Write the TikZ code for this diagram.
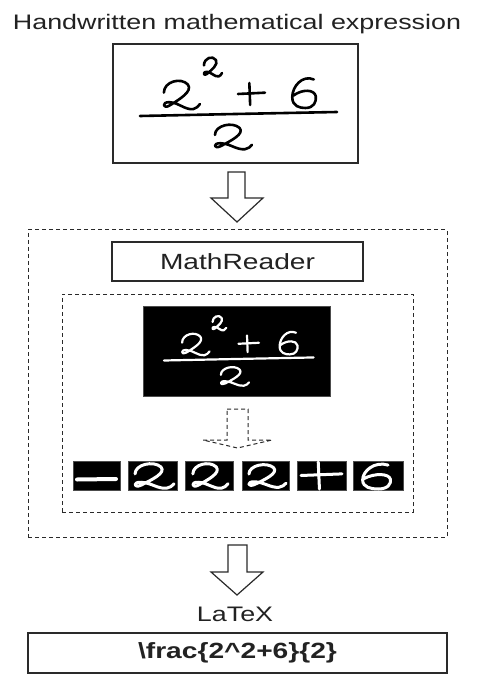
\documentclass[tikz,border=0pt]{standalone}
\usepackage{fontspec}
\setmainfont{Liberation Sans}[FakeStretch=1.28]
\definecolor{ink}{HTML}{222222}
\definecolor{frame}{HTML}{2A2A2A}
\tikzset{
  box/.style={draw=frame, line width=1.2pt, inner sep=0pt, fill=white},
  dbox/.style={draw=frame, line width=1pt, dash pattern=on 4pt off 3pt, inner sep=0pt},
  imgbox/.style={fill=black, draw=black!70, line width=0.6pt, inner sep=0pt},
  label/.style={text=ink, inner sep=0pt},
  harrow/.style={draw=frame, line width=1.2pt, fill=white, line join=miter},
  hand/.style={line width=2.6pt, line cap=round, line join=round},
}
% handwritten strokes, drawn in a unit box (x right, y down)
\newcommand{\hwtwo}[4]{\draw[shift={(#1,#2)},xscale=#3,yscale=#4]
  (0.05,0.42) .. controls (0.05,0.05) and (0.5,-0.1) .. (0.68,0.15)
  .. controls (0.82,0.38) and (0.45,0.65) .. (0.2,0.85)
  .. controls (0.02,0.99) and (-0.02,0.72) .. (0.2,0.74)
  .. controls (0.45,0.76) and (0.6,1.0) .. (0.82,0.97)
  .. controls (0.9,0.95) and (0.96,0.88) .. (1,0.8);}
\newcommand{\hwsix}[4]{\draw[shift={(#1,#2)},xscale=#3,yscale=#4]
  (0.85,0.08) .. controls (0.45,-0.08) and (0.08,0.3) .. (0.08,0.65)
  .. controls (0.08,0.95) and (0.35,1.0) .. (0.55,1.0)
  .. controls (0.85,1.0) and (0.95,0.8) .. (0.92,0.62)
  .. controls (0.87,0.4) and (0.45,0.38) .. (0.12,0.6);}
\newcommand{\hwplus}[4]{\draw[shift={(#1,#2)},xscale=#3,yscale=#4]
  (0.42,0) -- (0.45,1) (0,0.5) -- (1,0.44);}
\newcommand{\hwexpr}{%
  \hwtwo{-73.5}{-23.5}{38}{30}
  \hwtwo{-32.5}{-46.5}{19}{20}
  \hwplus{2.5}{-20.5}{27}{22}
  \hwsix{54.5}{-26.5}{28}{31}
  \draw (-95.5,12.5) -- (0,10.5) -- (101.5,8.5);
  \hwtwo{-22.5}{20.5}{39}{26}}
\begin{document}
\begin{tikzpicture}[x=1pt,y=-1pt]
\useasboundingbox (0,0) rectangle (487,692);
\fill[white] (0,0) rectangle (487,692);

% title and input image
\node[label, font=\fontsize{21}{25}\selectfont] (title) at (237,24) {Handwritten mathematical expression};
\node[box, minimum width=245pt, minimum height=119pt] (input) at (235.5,103.5) {};
\begin{scope}[shift={(input.center)}, hand, draw=black]
  \hwexpr
\end{scope}

% arrow 1
\draw[harrow] (228,172) -- (245,172) -- (245,198) -- (263,198) -- (237,222)
  -- (211,198) -- (228,198) -- cycle;

% MathReader block
\node[dbox, minimum width=419pt, minimum height=307pt] (outer) at (237.5,383.5) {};
\node[box, minimum width=251pt, minimum height=39pt, label, draw=frame,
  font=\fontsize{22}{26}\selectfont] (reader) at (237.5,261.5) {MathReader};
\node[dbox, minimum width=351pt, minimum height=218pt] (inner) at (237.5,403) {};
\node[imgbox, minimum width=187pt, minimum height=90pt] (binimg) at (236.5,351) {};
\begin{scope}[shift={(binimg.center)}, scale=0.76, hand, draw=white, line width=2.2pt]
  \hwexpr
\end{scope}

% dashed arrow
\draw[harrow, line width=1pt, dash pattern=on 4pt off 3pt] (227,409) -- (248,409)
  -- (248,440) -- (272,440) -- (237.5,448) -- (203,440) -- (227,440) -- cycle;

% segmented symbols
\foreach \n/\cx/\w in {1/96.5/47, 2/152.5/49, 3/209/48, 4/265.5/47, 5/321.5/49, 6/378/50}
  \node[imgbox, minimum width=\w pt, minimum height=29pt] (s\n) at (\cx,475.5) {};
\begin{scope}[draw=white, line width=3pt, line cap=round, line join=round]
  \draw[line width=4pt] (77,479.5) -- (116,479);
  \hwtwo{133}{463}{41}{26}
  \hwtwo{191}{463}{37}{26}
  \hwtwo{247}{464}{39}{24}
  \hwplus{301}{462}{41}{27}
  \hwsix{360}{463}{33}{26}
\end{scope}

% arrow 2
\draw[harrow] (228,545) -- (247,545) -- (247,572) -- (263,572) -- (237,595)
  -- (211,572) -- (228,572) -- cycle;

% output
\node[label, font=\fontsize{21}{25}\selectfont] (latex) at (235,614) {LaTeX};
\node[box, minimum width=419pt, minimum height=40pt, label, draw=frame,
  font=\fontsize{22}{26}\selectfont\bfseries] (out) at (237.5,653) {\textbackslash frac\{2\textasciicircum 2+6\}\{2\}};
\end{tikzpicture}
\end{document}
